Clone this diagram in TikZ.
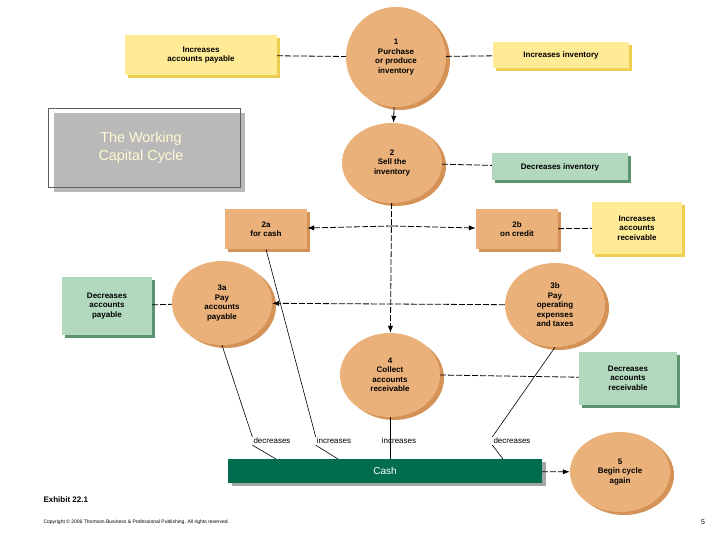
\documentclass[tikz,border=0pt]{standalone}
\usepackage{fontspec}
\setmainfont{Liberation Sans}
\usetikzlibrary{shapes.geometric, shadows, arrows.meta, positioning}
\definecolor{or1}{RGB}{234, 178, 122}
\definecolor{or2}{RGB}{212, 146, 86}
\definecolor{ye1}{RGB}{255, 234, 150}
\definecolor{ye2}{RGB}{238, 206, 80}
\definecolor{gr1}{RGB}{178, 216, 190}
\definecolor{gr2}{RGB}{92, 148, 112}
\definecolor{cash}{RGB}{0, 110, 78}
\definecolor{ttl}{RGB}{255, 250, 210}

\tikzset{
    stage/.style={ellipse, fill=or1, minimum width=100pt, minimum height=84pt, inner sep=0pt, align=center, font=\bfseries\footnotesize,
        drop shadow={shadow xshift=4pt, shadow yshift=-3pt, opacity=1, fill=or2}},
    sbox/.style={fill=or1, minimum width=82pt, minimum height=40pt, align=center, font=\bfseries\footnotesize,
        drop shadow={shadow xshift=3pt, shadow yshift=-3pt, opacity=1, fill=or2}},
    incr/.style={fill=ye1, align=center, font=\bfseries\footnotesize, inner sep=2pt,
        drop shadow={shadow xshift=3pt, shadow yshift=-3pt, opacity=1, fill=ye2}},
    decr/.style={fill=gr1, align=center, font=\bfseries\footnotesize, inner sep=2pt,
        drop shadow={shadow xshift=3pt, shadow yshift=-3pt, opacity=1, fill=gr2}},
    link/.style={thick, dash pattern=on 6pt off 2pt},
    flow/.style={link, -{Latex[length=7pt]}},
    tie/.style={semithick},
    lbl/.style={fill=white, inner sep=1pt, font=\footnotesize}
}

\begin{document}
\begin{tikzpicture}[x=1pt, y=-1pt]
	\useasboundingbox (0,0) rectangle (720,540);
	% title
	\fill[gray!55] (54,113) rectangle (245,192);
	\draw[gray!75!black] (48,108) rectangle (240,187);
	\node[font=\Large, text=ttl, align=center] (title) at (141,148) {The Working\\Capital Cycle};
	
	% stages
	\node[stage, minimum height=100pt] (s1) at (396,57) {1\\Purchase\\or produce\\inventory};
	\node[stage, minimum height=80pt] (s2) at (392,163) {2\\Sell the\\inventory};
	\node[sbox] (s2a) at (266,229) {2a\\for cash};
	\node[sbox] (s2b) at (517,229) {2b\\on credit};
	\node[stage] (s3a) at (222,303) {3a\\Pay\\accounts\\payable};
	\node[stage] (s3b) at (555,305) {3b\\Pay\\operating\\expenses\\and taxes};
	\node[stage] (s4) at (390,375) {4\\Collect\\accounts\\receivable};
	\node[stage, minimum height=80pt] (s5) at (620,472) {5\\Begin cycle\\again};
	
	% effects
	\node[incr, minimum width=152pt, minimum height=40pt] (iap) at (201,55) {Increases\\accounts payable};
	\node[incr, minimum width=136pt, minimum height=26pt] (iinv) at (561,55) {Increases inventory};
	\node[decr, minimum width=136pt, minimum height=27pt] (dinv) at (560,167) {Decreases inventory};
	\node[incr, minimum width=90pt, minimum height=52pt] (iar) at (637,228) {Increases\\accounts\\receivable};
	\node[decr, minimum width=90pt, minimum height=58pt] (dap) at (107,306) {Decreases\\accounts\\payable};
	\node[decr, minimum width=98pt, minimum height=53pt] (dar) at (628,378) {Decreases\\accounts\\receivable};
	
	% cash
	\node[fill=cash, text=white, minimum width=314pt, minimum height=24pt, font=\normalsize,
		drop shadow={shadow xshift=4pt, shadow yshift=-3pt, opacity=1, fill=gray!70}] (cash) at (385,471) {Cash};
	
	% dashed links
	\draw[link] (iap) -- (s1);
	\draw[link] (s1) -- (iinv);
	\draw[link] (s2) -- (dinv);
	\draw[link] (s2b) -- (iar);
	\draw[link] (dap) -- (s3a);
	\draw[link] (s4.east) -- (dar);
	\draw[-{Latex[length=7pt]}, thick] (s1) -- (s2);
	\coordinate (fork) at (392,226);
	\draw[flow] (fork) -- (s2a);
	\draw[flow] (fork) -- (s2b);
	\draw[flow] (s2) -- (s4);
	\draw[flow] (s3b) -- (s3a);
	\draw[flow] (cash) -- (s5);
	
	% cash ties
	\node[lbl] (l1) at (272,441) {decreases};
	\node[lbl] (l2) at (334,441) {increases};
	\node[lbl] (l3) at (399,441) {increases};
	\node[lbl] (l4) at (512,441) {decreases};
	\coordinate (c1) at (276,459);
	\coordinate (c2) at (338,459);
	\coordinate (c4) at (503,459);
	\draw[tie] (s3a.south) -- (l1.north west);
	\draw[tie] (l1.south west) -- (c1);
	\draw[tie] (s2a.south) -- (l2.north west);
	\draw[tie] (l2.south west) -- (c2);
	\draw[tie] (s4.south) -- (cash.north -| s4.south);
	\draw[tie] (s3b.south) -- (l4.north west);
	\draw[tie] (l4.south west) -- (c4);
	
	% footer
	\node[anchor=west, font=\footnotesize\bfseries] (exh) at (40,500) {Exhibit 22.1};
	\node[anchor=west, font=\tiny] (copy) at (40,522) {Copyright © 2006 Thomson Business \& Professional Publishing. All rights reserved.};
	\node[font=\scriptsize] (pg) at (703,522) {5};
\end{tikzpicture}
\end{document}
